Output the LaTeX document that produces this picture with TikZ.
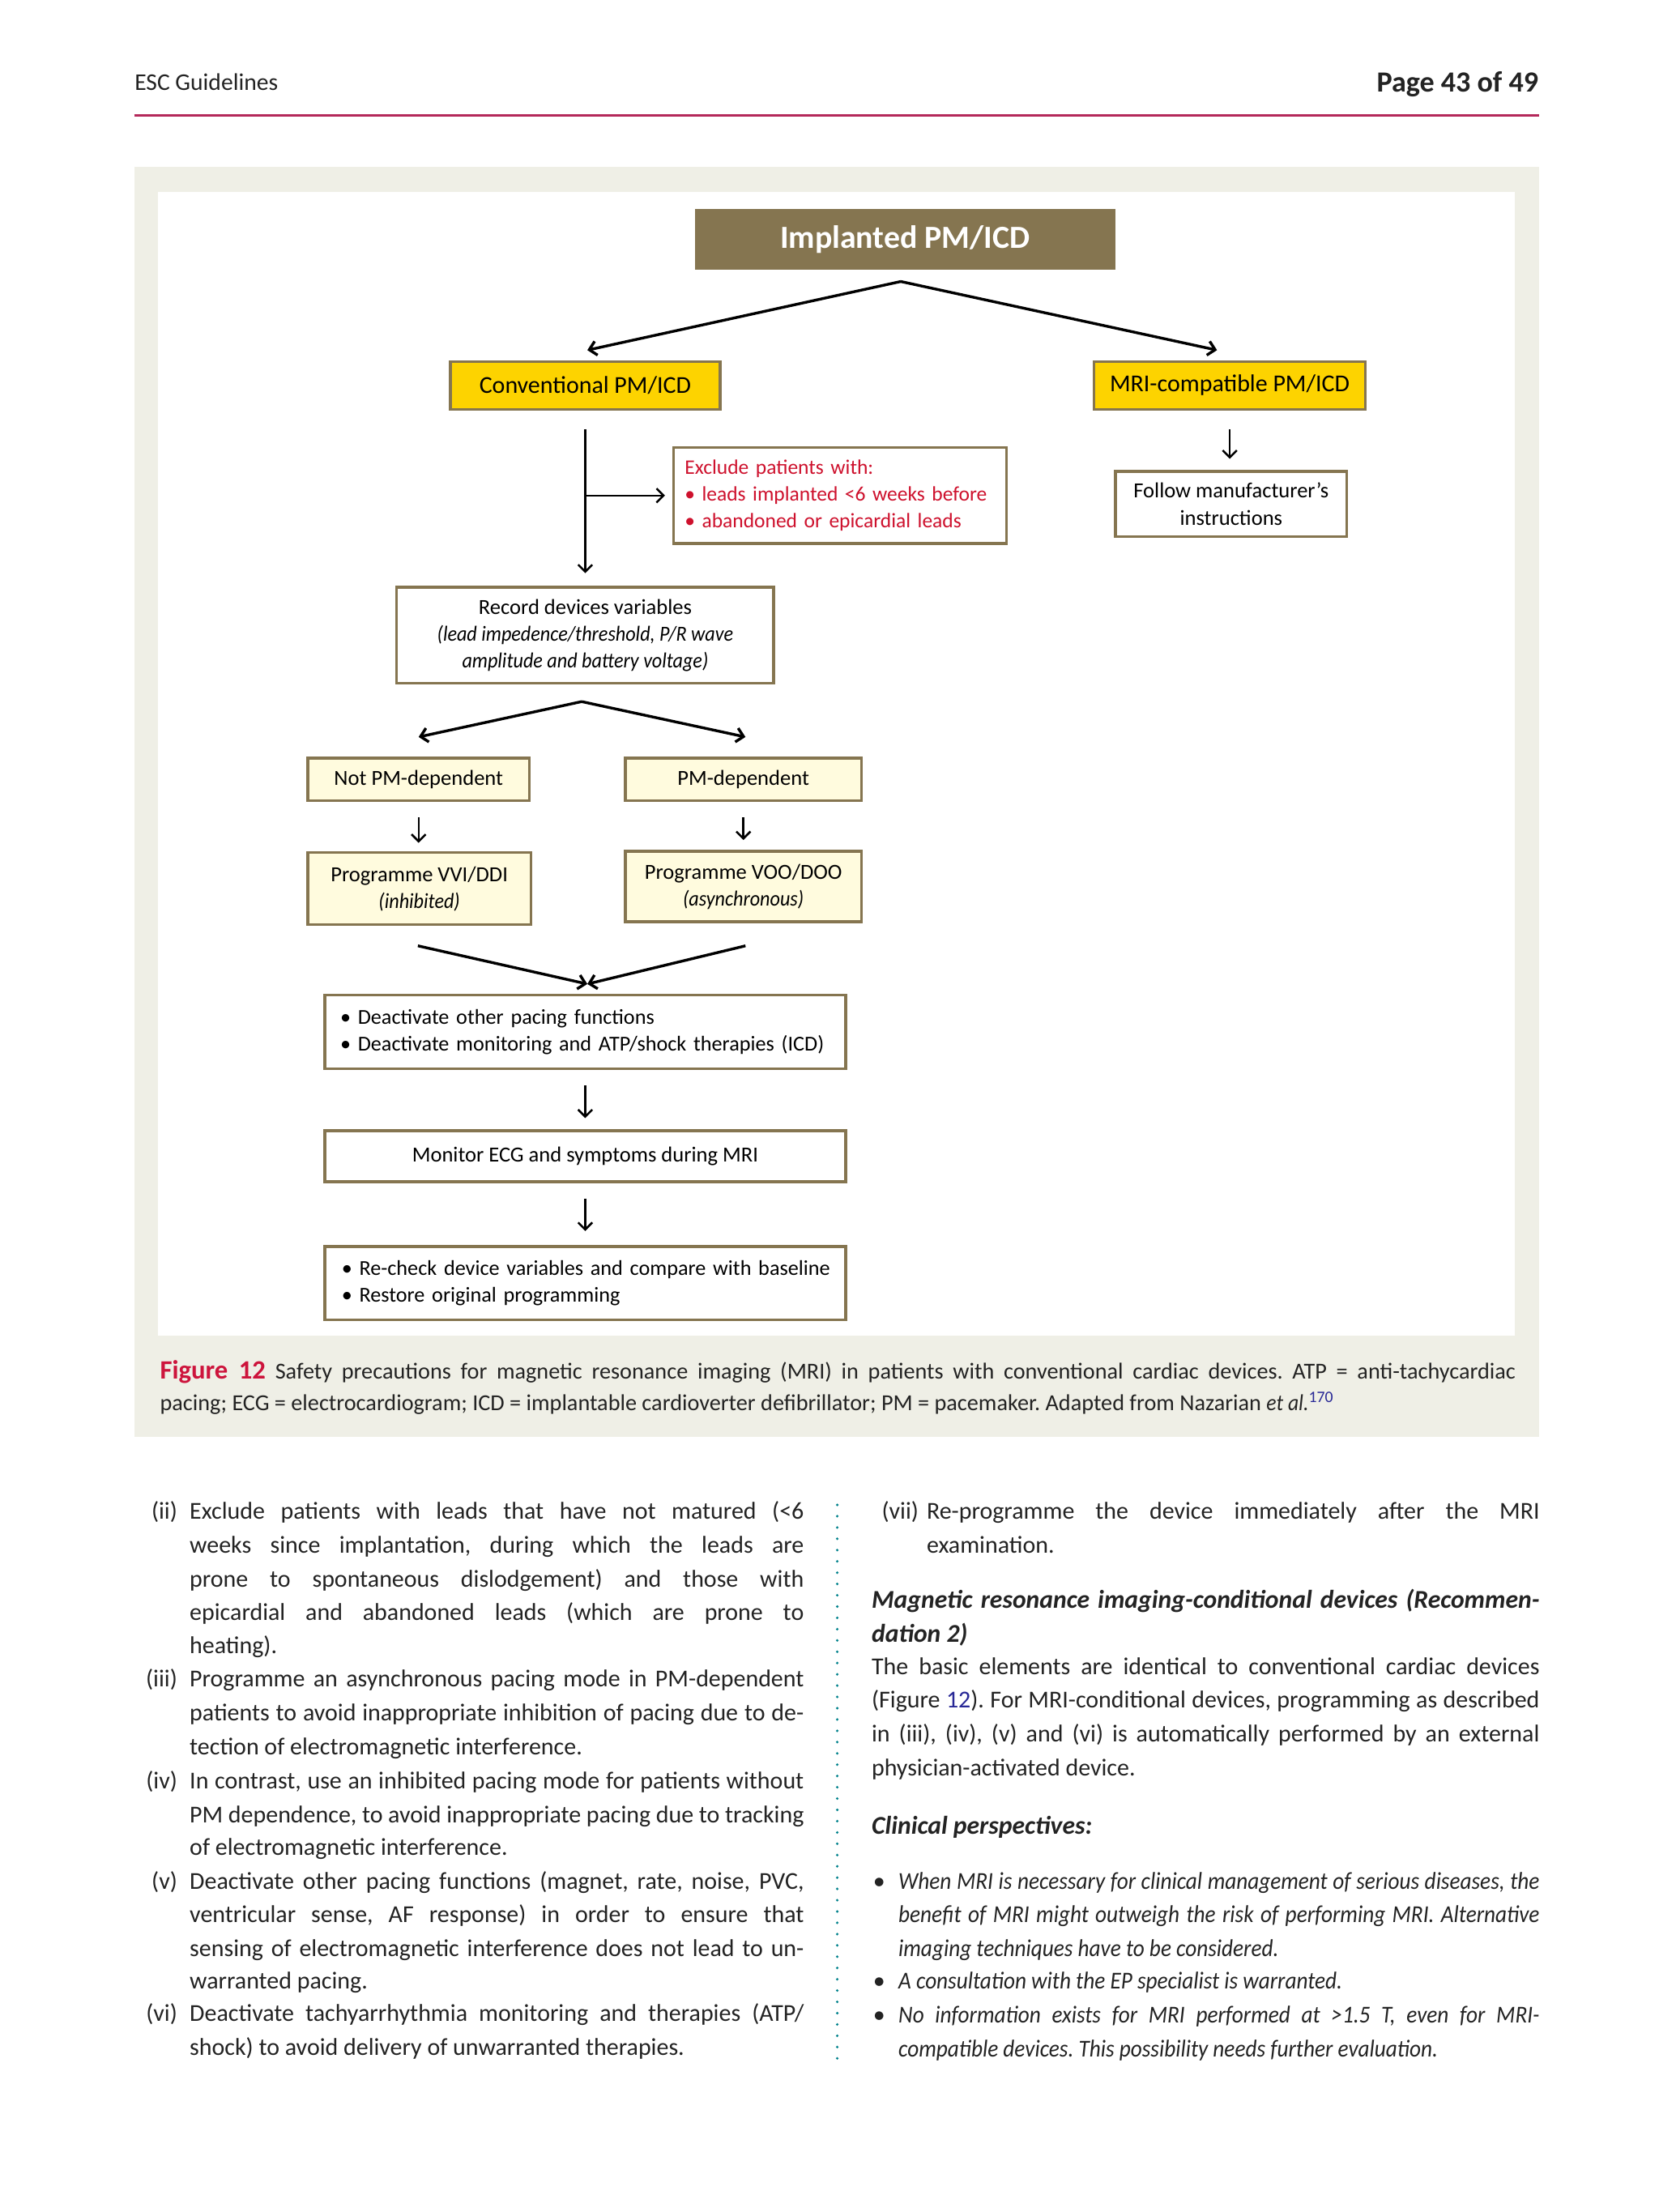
\documentclass[tikz,border=0pt]{standalone}
\usepackage{fontspec}
\setmainfont{Carlito}[ItalicFeatures={FakeStretch=0.91}]
\usetikzlibrary{arrows.meta,calc}
\frenchspacing

\definecolor{boxbrown}{RGB}{133,117,80}
\definecolor{boxgold}{RGB}{253,211,0}
\definecolor{boxcream}{RGB}{255,251,222}
\definecolor{exclred}{RGB}{206,17,45}
\definecolor{hdrred}{RGB}{180,40,90}
\definecolor{figred}{RGB}{205,20,60}
\definecolor{figbg}{RGB}{239,239,230}
\definecolor{septeal}{RGB}{0,130,140}
\definecolor{linkblue}{RGB}{40,40,150}
\definecolor{bodyink}{RGB}{35,35,35}

\newcommand{\hdrfont}{\fontsize{8.7}{10}\selectfont}
\newcommand{\pagefont}{\fontsize{10.6}{12}\selectfont\bfseries}
\newcommand{\capfont}{\fontsize{8.3}{10}\selectfont}
\newcommand{\figfont}{\fontsize{9.6}{11}\selectfont\bfseries}
\newcommand{\bodyfont}{\fontsize{8.8}{12}\selectfont}
\newcommand{\headfont}{\fontsize{9.3}{12}\selectfont\bfseries\itshape}
\newcommand{\boxfont}{\fontsize{7.8}{9.73}\selectfont}
\newcommand{\listfont}{\fontsize{7.7}{9.73}\selectfont}
\newcommand{\exclfont}{\fontsize{7.5}{9.73}\selectfont}
\newcommand{\goldfont}{\fontsize{8.8}{10}\selectfont}
\newcommand{\topfont}{\fontsize{11.7}{13}\selectfont\bfseries}

\begin{document}
\begin{tikzpicture}[x=0.18mm,y=-0.18mm,
    box/.style={draw=boxbrown,line width=0.35mm,inner sep=0,align=center,font=\boxfont},
    goldbox/.style={box,fill=boxgold,font=\goldfont,minimum height=6.12mm},
    creambox/.style={box,fill=boxcream},
    arr/.style={-{Straight Barb[length=0.9mm,width=1.8mm]},line width=0.75pt},
    fork/.style={arr,line width=1pt},
    bodytxt/.style={inner sep=0,anchor=base west,font=\bodyfont,text=bodyink},
    lbl/.style={inner sep=0,anchor=base east,font=\bodyfont,text=bodyink}]
    \useasboundingbox (0,0) rectangle (1175,1566.9);
    \fill[white] (0,0) rectangle (1175,1566.9);

    % page header
    \node[inner sep=0,anchor=base west,font=\hdrfont,text=bodyink] (hdr) at (95,64) {ESC Guidelines};
    \node[inner sep=0,anchor=base east,font=\pagefont,text=bodyink] (pageno) at (1090,65) {Page 43 of 49};
    \draw[hdrred,line width=0.3mm] (95,82) -- (1090,82);

    % figure panel
    \fill[figbg] (95,118) rectangle (1090,1018);
    \fill[white] (112,136) rectangle (1073,946);

    \node[fill=boxbrown,text=white,font=\topfont,minimum width=53.64mm,minimum height=7.74mm,inner sep=0] (top) at (641,169.5) {Implanted PM/ICD};
    \node[goldbox,minimum width=34.38mm] (conv) at (414.5,273) {Conventional PM/ICD};
    \node[goldbox,minimum width=34.56mm] (mric) at (871,273) {MRI-compatible PM/ICD};
    \node[box,font=\exclfont,text=exclred,align=left,text width=39.6mm,inner xsep=1.44mm,minimum height=12.24mm] (excl) at (595,351) {Exclude patients with:\\ • leads implanted <6 weeks before\\ • abandoned or epicardial leads};
    \node[box,minimum width=29.52mm,minimum height=8.28mm] (follow) at (872,357) {Follow manufacturer's\\ instructions};
    \node[box,minimum width=48.06mm,minimum height=12.24mm] (record) at (414.5,450) {Record devices variables\\ \textit{(lead impedence/threshold, P/R wave}\\ \textit{amplitude and battery voltage)}};
    \node[creambox,minimum width=28.26mm,minimum height=5.4mm] (notpm) at (296.5,552) {Not PM-dependent};
    \node[creambox,minimum width=30.06mm,minimum height=5.4mm] (pmdep) at (526.5,552) {PM-dependent};
    \node[creambox,minimum width=28.44mm,minimum height=9.18mm] (vvi) at (297,629.5) {Programme VVI/DDI\\ \textit{(inhibited)}};
    \node[creambox,minimum width=30.06mm,minimum height=9mm] (voo) at (526.5,628) {Programme VOO/DOO\\ \textit{(asynchronous)}};
    \node[box,font=\listfont,align=left,text width=62.46mm,inner xsep=1.98mm,minimum height=9.36mm] (deact) at (414.5,731) {\mbox{• Deactivate other pacing functions}\\ \mbox{• Deactivate monitoring and ATP/shock therapies (ICD)}};
    \node[box,minimum width=66.42mm,minimum height=6.48mm] (monitor) at (414.5,819) {Monitor ECG and symptoms during MRI};
    \node[box,font=\listfont,align=left,text width=62.1mm,inner xsep=2.16mm,minimum height=9.36mm] (recheck) at (414.5,909) {\mbox{• Re-check device variables and compare with baseline}\\ \mbox{• Restore original programming}};

    % forks
    \coordinate (topfork) at ($(top.south)+(-3,8)$);
    \coordinate (convtip) at ($(conv.north)+(1.5,-7)$);
    \coordinate (mrictip) at ($(mric.north)+(-9,-7)$);
    \coordinate (recfork) at ($(record.south)+(-2.5,12)$);
    \coordinate (notpmtip) at ($(notpm.north)+(0,-14)$);
    \coordinate (pmdeptip) at ($(pmdep.north)+(1.5,-14)$);
    \coordinate (vvitail) at ($(vvi.south)+(-1,14)$);
    \coordinate (vootail) at ($(voo.south)+(1.5,16)$);
    \coordinate (join) at ($(deact.north)+(1.5,-7)$);

    \draw[fork] (topfork) -- (convtip);
    \draw[fork] (topfork) -- (mrictip);
    \draw[arr,shorten <=2.34mm,shorten >=1.62mm] (conv.south) -- (record.north);
    \draw[arr,shorten >=0.9mm] (conv.south |- excl.west) -- (excl.west);
    \draw[arr,shorten <=2.34mm,shorten >=1.44mm] (mric.south) -- (mric.south |- follow.north);
    \draw[fork] (recfork) -- (notpmtip);
    \draw[fork] (recfork) -- (pmdeptip);
    \draw[arr,shorten <=1.98mm,shorten >=1.08mm] (notpm.south) -- (notpm.south |- vvi.north);
    \draw[arr,shorten <=1.98mm,shorten >=1.26mm] (pmdep.south) -- (pmdep.south |- voo.north);
    \draw[fork] (vvitail) -- (join);
    \draw[fork] (vootail) -- (join);
    \draw[arr,shorten <=1.98mm,shorten >=1.44mm] (deact.south) -- (monitor.north);
    \draw[arr,shorten <=1.98mm,shorten >=1.8mm] (monitor.south) -- (recheck.north);

    % caption
    \node[inner sep=0,anchor=base west,font=\capfont,text=bodyink] (cap1) at (113,977) {\makebox[172.8mm][s]{\textcolor{figred}{\figfont Figure 12} Safety precautions for magnetic resonance imaging (MRI) in patients with conventional cardiac devices. ATP = anti-tachycardiac}};
    \node[inner sep=0,anchor=base west,font=\capfont,text=bodyink] (cap2) at (113,999) {pacing; ECG = electrocardiogram; ICD = implantable cardioverter defibrillator; PM = pacemaker. Adapted from Nazarian \textit{et al.}\textsuperscript{\textcolor{linkblue}{170}}};

    % left column
    \node[lbl] (lii) at (126,1076) {(ii)};
    \node[bodytxt] (l1) at (134,1076) {\makebox[78.3mm][s]{Exclude patients with leads that have not matured (<6}};
    \node[bodytxt] (l2) at (134,1100) {\makebox[78.3mm][s]{weeks since implantation, during which the leads are}};
    \node[bodytxt] (l3) at (134,1124) {\makebox[78.3mm][s]{prone to spontaneous dislodgement) and those with}};
    \node[bodytxt] (l4) at (134,1148) {\makebox[78.3mm][s]{epicardial and abandoned leads (which are prone to}};
    \node[bodytxt] (l5) at (134,1171) {heating).};
    \node[lbl] (liii) at (126,1195) {(iii)};
    \node[bodytxt] (l6) at (134,1195) {\makebox[78.3mm][s]{Programme an asynchronous pacing mode in PM-dependent}};
    \node[bodytxt] (l7) at (134,1219) {\makebox[78.3mm][s]{patients to avoid inappropriate inhibition of pacing due to de-}};
    \node[bodytxt] (l8) at (134,1243) {tection of electromagnetic interference.};
    \node[lbl] (liv) at (126,1267) {(iv)};
    \node[bodytxt] (l9) at (134,1267) {\makebox[78.3mm][s]{In contrast, use an inhibited pacing mode for patients without}};
    \node[bodytxt] (l10) at (134,1291) {\makebox[78.3mm][s]{PM dependence, to avoid inappropriate pacing due to tracking}};
    \node[bodytxt] (l11) at (134,1314) {of electromagnetic interference.};
    \node[lbl] (lv) at (126,1338) {(v)};
    \node[bodytxt] (l12) at (134,1338) {\makebox[78.3mm][s]{Deactivate other pacing functions (magnet, rate, noise, PVC,}};
    \node[bodytxt] (l13) at (134,1362) {\makebox[78.3mm][s]{ventricular sense, AF response) in order to ensure that}};
    \node[bodytxt] (l14) at (134,1386) {\makebox[78.3mm][s]{sensing of electromagnetic interference does not lead to un-}};
    \node[bodytxt] (l15) at (134,1409) {warranted pacing.};
    \node[lbl] (lvi) at (126,1432) {(vi)};
    \node[bodytxt] (l16) at (134,1432) {\makebox[78.3mm][s]{Deactivate tachyarrhythmia monitoring and therapies (ATP/}};
    \node[bodytxt] (l17) at (134,1456) {shock) to avoid delivery of unwarranted therapies.};

    % column rule
    \draw[septeal,line width=0.35mm,line cap=round,dash pattern=on 0pt off 1.44mm] (593,1066) -- (593,1460);

    % right column
    \node[lbl] (lvii) at (651,1076) {(vii)};
    \node[bodytxt] (r1) at (656,1076) {\makebox[78.12mm][s]{Re-programme the device immediately after the MRI}};
    \node[bodytxt] (r2) at (656,1100) {examination.};
    \node[bodytxt,font=\headfont] (h1) at (617,1139) {\makebox[85.14mm][s]{Magnetic resonance imaging-conditional devices (Recommen-}};
    \node[bodytxt,font=\headfont] (h2) at (617,1163) {dation 2)};
    \node[bodytxt] (p1) at (617,1186) {\makebox[85.14mm][s]{The basic elements are identical to conventional cardiac devices}};
    \node[bodytxt] (p2) at (617,1210) {\makebox[85.14mm][s]{(Figure \textcolor{linkblue}{12}). For MRI-conditional devices, programming as described}};
    \node[bodytxt] (p3) at (617,1234) {\makebox[85.14mm][s]{in (iii), (iv), (v) and (vi) is automatically performed by an external}};
    \node[bodytxt] (p4) at (617,1258) {physician-activated device.};
    \node[bodytxt,font=\headfont] (h3) at (617,1299) {Clinical perspectives:};
    \node[bodytxt] (b1) at (618,1338) {•};
    \node[bodytxt] (b2) at (618,1409) {•};
    \node[bodytxt] (b3) at (618,1433) {•};
    \node[bodytxt,font=\bodyfont\itshape] (c1) at (636,1338) {\makebox[81.72mm][s]{When MRI is necessary for clinical management of serious diseases, the}};
    \node[bodytxt,font=\bodyfont\itshape] (c2) at (636,1362) {\makebox[81.72mm][s]{benefit of MRI might outweigh the risk of performing MRI. Alternative}};
    \node[bodytxt,font=\bodyfont\itshape] (c3) at (636,1386) {imaging techniques have to be considered.};
    \node[bodytxt,font=\bodyfont\itshape] (c4) at (636,1409) {A consultation with the EP specialist is warranted.};
    \node[bodytxt,font=\bodyfont\itshape] (c5) at (636,1433) {\makebox[81.72mm][s]{No information exists for MRI performed at >1.5 T, even for MRI-}};
    \node[bodytxt,font=\bodyfont\itshape] (c6) at (636,1457) {compatible devices. This possibility needs further evaluation.};
\end{tikzpicture}
\end{document}
